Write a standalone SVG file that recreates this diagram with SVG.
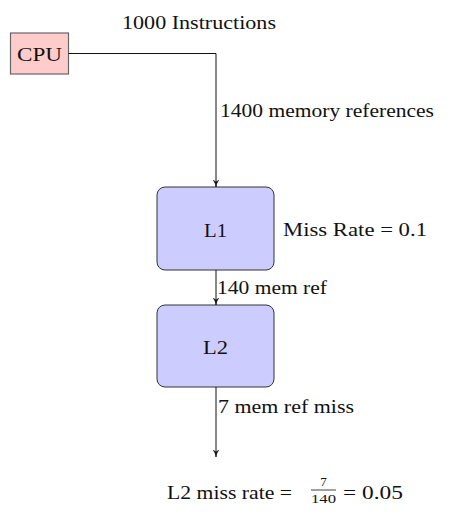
<svg xmlns="http://www.w3.org/2000/svg" width="451" height="522" viewBox="0 0 451 522">
<style>
text{font-family:'Liberation Serif','Times New Roman',serif;font-size:19px;fill:#111}
.c{text-anchor:middle}
.cache{fill:#ccccff;stroke:#333;stroke-width:1}
.cpu{fill:#ffcccc;stroke:#666;stroke-width:1.2}
.e{fill:none;stroke:#111;stroke-width:1}
.f{font-size:13px}
</style>
<defs>
<marker id="ah" viewBox="0 0 10 10" refX="10" refY="5" markerWidth="7" markerHeight="7" markerUnits="userSpaceOnUse" orient="auto">
<path d="M0,1 Q6,5 10,5 Q6,5 0,9 L3,5 Z" fill="#111" stroke="#111" stroke-width="0.6"/>
</marker>
</defs>
<rect width="451" height="522" fill="#fff"/>
<g id="cpu">
<rect class="cpu" x="10.5" y="33" width="58" height="41"/>
<text class="c" x="39.5" y="61" textLength="45" lengthAdjust="spacingAndGlyphs">CPU</text>
</g>
<g id="l1">
<rect class="cache" x="157" y="187" width="117" height="83" rx="8"/>
<text class="c" x="215.5" y="237" textLength="23" lengthAdjust="spacingAndGlyphs">L1</text>
</g>
<g id="l2">
<rect class="cache" x="157" y="305" width="117" height="82" rx="8"/>
<text class="c" x="215.5" y="354" textLength="25" lengthAdjust="spacingAndGlyphs">L2</text>
</g>
<g id="connectors">
<path class="e" d="M68.5,53.5 H216 V187" marker-end="url(#ah)"/>
<path class="e" d="M216,270 V305" marker-end="url(#ah)"/>
<path class="e" d="M216,387 V457" marker-end="url(#ah)"/>
</g>
<g id="labels">
<text x="122" y="29" textLength="154" lengthAdjust="spacingAndGlyphs">1000 Instructions</text>
<text x="220" y="117" textLength="214" lengthAdjust="spacingAndGlyphs">1400 memory references</text>
<text x="283" y="236" textLength="144" lengthAdjust="spacingAndGlyphs">Miss Rate = 0.1</text>
<text x="217" y="294" textLength="110" lengthAdjust="spacingAndGlyphs">140 mem ref</text>
<text x="218" y="413" textLength="136" lengthAdjust="spacingAndGlyphs">7 mem ref miss</text>
<text x="167" y="499" textLength="125" lengthAdjust="spacingAndGlyphs">L2 miss rate =</text>
<text class="c f" x="323.5" y="486">7</text>
<line x1="311" y1="490" x2="336" y2="490" stroke="#111" stroke-width="0.8"/>
<text class="c f" x="323.5" y="503" textLength="25" lengthAdjust="spacingAndGlyphs">140</text>
<text x="343" y="499" textLength="60" lengthAdjust="spacingAndGlyphs">= 0.05</text>
</g>
</svg>
